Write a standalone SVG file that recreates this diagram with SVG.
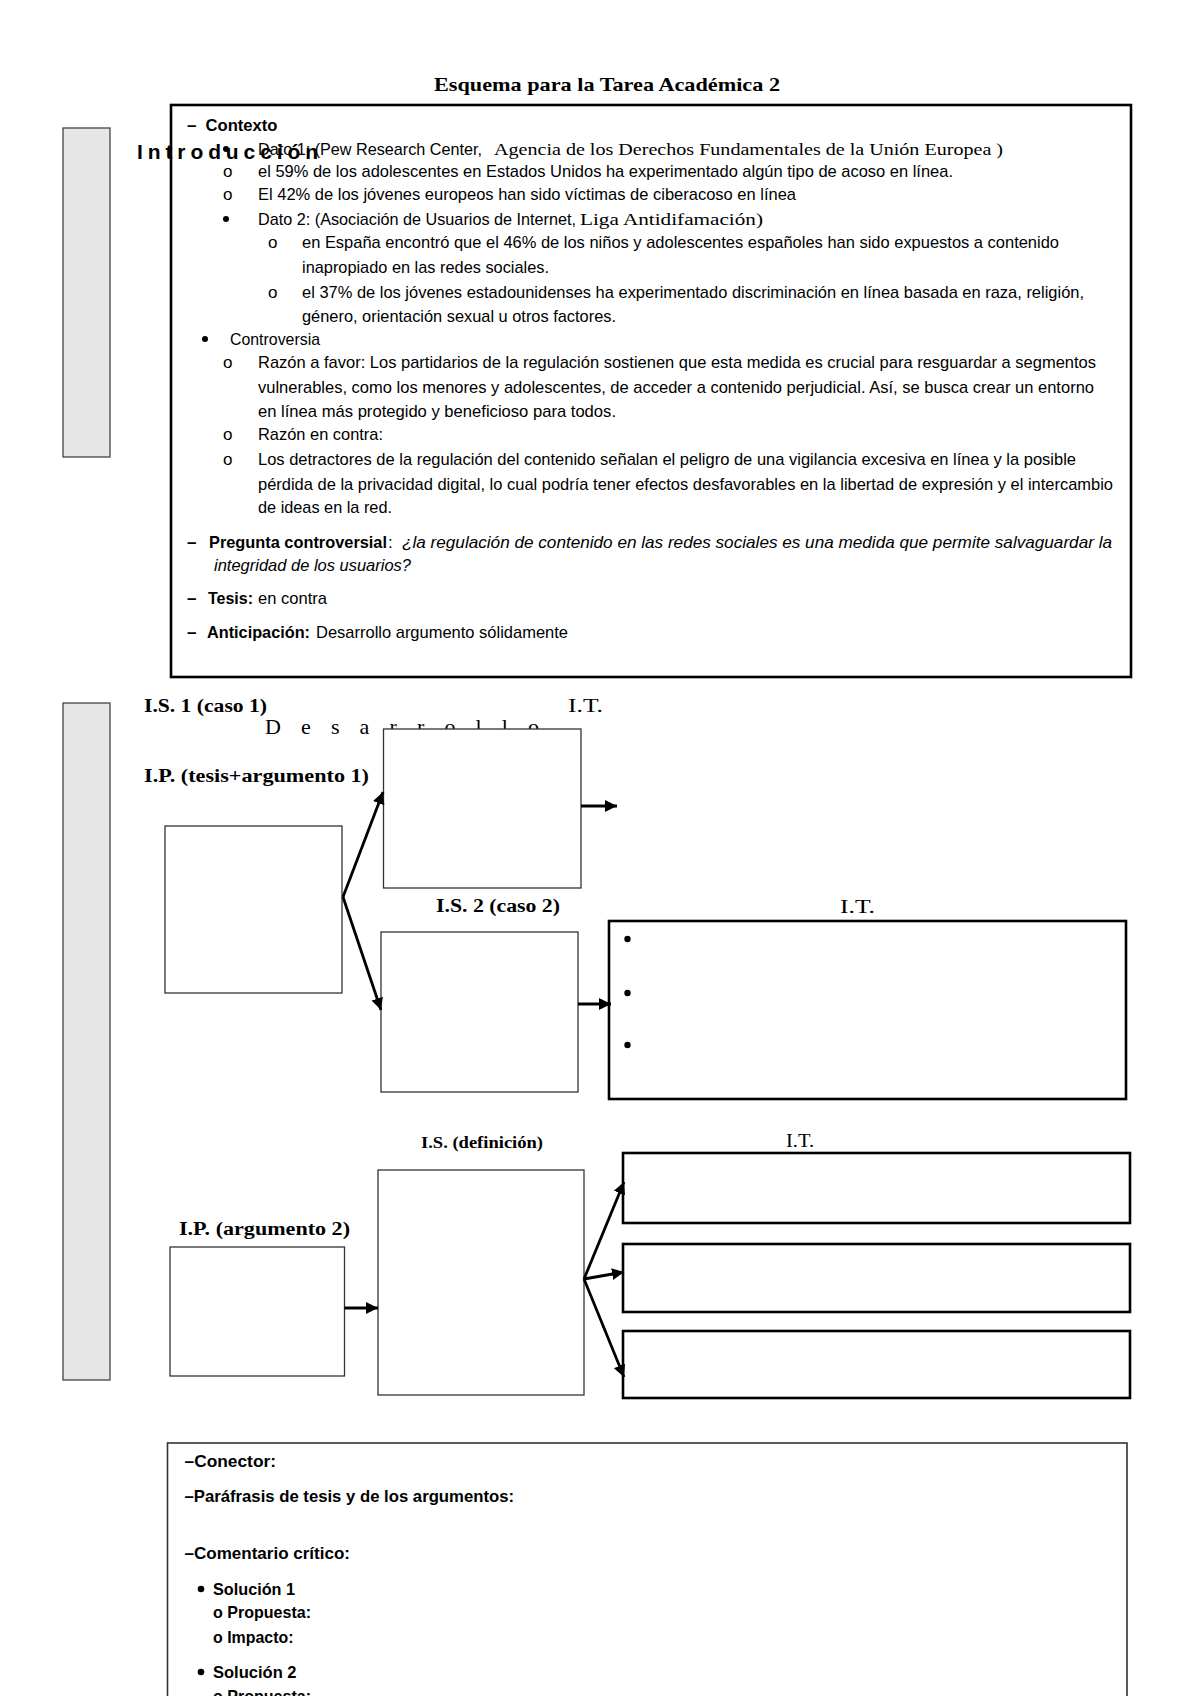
<svg xmlns="http://www.w3.org/2000/svg" width="1200" height="1696" viewBox="0 0 1200 1696">
<style>
.s{font-family:"Liberation Sans",Arial,sans-serif;font-size:17px;fill:#000}
.b{font-weight:bold}
.i{font-style:italic}
.r{font-family:"Liberation Serif","Times New Roman",serif;font-size:17px;fill:#000}
.lab{font-family:"Liberation Serif","Times New Roman",serif;font-size:18px;fill:#000;font-weight:bold}
.labn{font-family:"Liberation Serif","Times New Roman",serif;font-size:18px;fill:#000}
.bar{fill:#e6e6e6;stroke:#444;stroke-width:1.3}
.thin{fill:#fff;stroke:#333;stroke-width:1.3}
.thick{fill:#fff;stroke:#000;stroke-width:2.6}
.conn{stroke:#000;stroke-width:2.8;fill:none;marker-end:url(#ah)}
</style>
<defs>
<marker id="ah" markerUnits="userSpaceOnUse" markerWidth="14" markerHeight="14" refX="12" refY="7" orient="auto">
<path d="M0,1 L12,7 L0,13 z" fill="#000"/>
</marker>
</defs>
<rect width="1200" height="1696" fill="#fff"/>

<text id="title" class="r b" x="434" y="91" style="font-size:19px" textLength="346" lengthAdjust="spacingAndGlyphs">Esquema para la Tarea Académica 2</text>

<g id="bar-intro"><rect class="bar" x="63" y="128" width="47" height="329"/></g>

<g id="intro-box">
<rect x="171" y="105" width="960" height="572" fill="none" stroke="#000" stroke-width="2.6"/>
<text class="s b" x="187" y="131">–</text>
<text class="s b" x="205.5" y="131" textLength="72" lengthAdjust="spacingAndGlyphs">Contexto</text>
<circle cx="226" cy="149" r="3" fill="#000"/>
<text class="s" x="258" y="155" textLength="224" lengthAdjust="spacingAndGlyphs">Dato 1: (Pew Research Center,</text>
<text class="r" x="494" y="155" textLength="509" lengthAdjust="spacingAndGlyphs">Agencia de los Derechos Fundamentales de la Unión Europea )</text>
<text class="s" x="223" y="177">o</text>
<text class="s" x="258" y="177" textLength="695" lengthAdjust="spacingAndGlyphs">el 59% de los adolescentes en Estados Unidos ha experimentado algún tipo de acoso en línea.</text>
<text class="s" x="223" y="200">o</text>
<text class="s" x="258" y="200" textLength="538" lengthAdjust="spacingAndGlyphs">El 42% de los jóvenes europeos han sido víctimas de ciberacoso en línea</text>
<circle cx="226" cy="219" r="3" fill="#000"/>
<text class="s" x="258" y="225" textLength="318" lengthAdjust="spacingAndGlyphs">Dato 2: (Asociación de Usuarios de Internet,</text>
<text class="r" x="580" y="225" textLength="183" lengthAdjust="spacingAndGlyphs">Liga Antidifamación)</text>
<text class="s" x="268" y="248">o</text>
<text class="s" x="302" y="248" textLength="757" lengthAdjust="spacingAndGlyphs">en España encontró que el 46% de los niños y adolescentes españoles han sido expuestos a contenido</text>
<text class="s" x="302" y="273" textLength="247" lengthAdjust="spacingAndGlyphs">inapropiado en las redes sociales.</text>
<text class="s" x="268" y="298">o</text>
<text class="s" x="302" y="298" textLength="782" lengthAdjust="spacingAndGlyphs">el 37% de los jóvenes estadounidenses ha experimentado discriminación en línea basada en raza, religión,</text>
<text class="s" x="302" y="322" textLength="314" lengthAdjust="spacingAndGlyphs">género, orientación sexual u otros factores.</text>
<circle cx="205" cy="339" r="3" fill="#000"/>
<text class="s" x="230" y="345" textLength="90" lengthAdjust="spacingAndGlyphs">Controversia</text>
<text class="s" x="223" y="368">o</text>
<text class="s" x="258" y="368" textLength="838" lengthAdjust="spacingAndGlyphs">Razón a favor: Los partidarios de la regulación sostienen que esta medida es crucial para resguardar a segmentos</text>
<text class="s" x="258" y="393" textLength="836" lengthAdjust="spacingAndGlyphs">vulnerables, como los menores y adolescentes, de acceder a contenido perjudicial. Así, se busca crear un entorno</text>
<text class="s" x="258" y="417" textLength="358" lengthAdjust="spacingAndGlyphs">en línea más protegido y beneficioso para todos.</text>
<text class="s" x="223" y="440">o</text>
<text class="s" x="258" y="440" textLength="125" lengthAdjust="spacingAndGlyphs">Razón en contra:</text>
<text class="s" x="223" y="465">o</text>
<text class="s" x="258" y="465" textLength="818" lengthAdjust="spacingAndGlyphs">Los detractores de la regulación del contenido señalan el peligro de una vigilancia excesiva en línea y la posible</text>
<text class="s" x="258" y="490" textLength="855" lengthAdjust="spacingAndGlyphs">pérdida de la privacidad digital, lo cual podría tener efectos desfavorables en la libertad de expresión y el intercambio</text>
<text class="s" x="258" y="513" textLength="134" lengthAdjust="spacingAndGlyphs">de ideas en la red.</text>
<text class="s b" x="187" y="548">–</text>
<text class="s b" x="209" y="548" textLength="178" lengthAdjust="spacingAndGlyphs">Pregunta controversial</text>
<text class="s" x="388" y="548">:</text>
<text class="s i" x="402" y="548" textLength="710" lengthAdjust="spacingAndGlyphs">¿la regulación de contenido en las redes sociales es una medida que permite salvaguardar la</text>
<text class="s i" x="214" y="571" textLength="197" lengthAdjust="spacingAndGlyphs">integridad de los usuarios?</text>
<text class="s b" x="187" y="604">–</text>
<text class="s b" x="208" y="604" textLength="45" lengthAdjust="spacingAndGlyphs">Tesis:</text>
<text class="s" x="258" y="604" textLength="69" lengthAdjust="spacingAndGlyphs">en contra</text>
<text class="s b" x="187" y="638">–</text>
<text class="s b" x="207" y="638" textLength="103" lengthAdjust="spacingAndGlyphs">Anticipación:</text>
<text class="s" x="316" y="638" textLength="252" lengthAdjust="spacingAndGlyphs">Desarrollo argumento sólidamente</text>
</g>

<text id="lbl-intro" class="s b" x="137" y="159" style="font-size:21px" textLength="181" lengthAdjust="spacing">I n t r o d u c c i ó n</text>

<g id="bar-desarrollo"><rect class="bar" x="63" y="703" width="47" height="677"/></g>

<text class="lab" x="144" y="712" textLength="123" lengthAdjust="spacingAndGlyphs">I.S. 1 (caso 1)</text>
<text class="labn" x="568" y="712" textLength="35" lengthAdjust="spacingAndGlyphs">I.T.</text>
<text id="lbl-desarrollo" class="r" x="265" y="734" style="font-size:22px" textLength="274" lengthAdjust="spacing">D e s a r r o l l o</text>
<text class="lab" x="144" y="782" textLength="225" lengthAdjust="spacingAndGlyphs">I.P. (tesis+argumento 1)</text>

<g id="is1"><rect class="thin" x="383.5" y="729" width="197.5" height="159"/></g>
<g id="ip1"><rect class="thin" x="165" y="826" width="177" height="167"/></g>

<text class="lab" x="436" y="912" textLength="124" lengthAdjust="spacingAndGlyphs">I.S. 2 (caso 2)</text>
<g id="is2"><rect class="thin" x="381" y="932" width="197" height="160"/></g>

<text class="labn" x="840" y="913" textLength="35" lengthAdjust="spacingAndGlyphs">I.T.</text>
<g id="it2">
<rect class="thick" x="609" y="921" width="517" height="178"/>
<circle cx="627.5" cy="939" r="3.2" fill="#000"/>
<circle cx="627.5" cy="993" r="3.2" fill="#000"/>
<circle cx="627.5" cy="1045" r="3.2" fill="#000"/>
</g>

<text class="lab" x="421" y="1148" style="font-size:16px" textLength="122" lengthAdjust="spacingAndGlyphs">I.S. (definición)</text>
<text class="labn" x="786" y="1147" textLength="28" lengthAdjust="spacingAndGlyphs">I.T.</text>
<text class="lab" x="179" y="1235" textLength="171" lengthAdjust="spacingAndGlyphs">I.P. (argumento 2)</text>

<g id="ip2"><rect class="thin" x="170" y="1247" width="174.5" height="129"/></g>
<g id="isdef"><rect class="thin" x="378" y="1170" width="206" height="225"/></g>
<g id="it-a"><rect class="thick" x="623" y="1153" width="507" height="70"/></g>
<g id="it-b"><rect class="thick" x="623" y="1244" width="507" height="68"/></g>
<g id="it-c"><rect class="thick" x="623" y="1331" width="507" height="67"/></g>

<g id="connectors">
<line class="conn" x1="343" y1="897" x2="383" y2="792"/>
<line class="conn" x1="343" y1="897" x2="381" y2="1010"/>
<line class="conn" x1="581" y1="806" x2="617" y2="806"/>
<line class="conn" x1="578" y1="1004" x2="611" y2="1004"/>
<line class="conn" x1="344.5" y1="1308" x2="378" y2="1308"/>
<line class="conn" x1="584" y1="1279" x2="624" y2="1182"/>
<line class="conn" x1="584" y1="1279" x2="624" y2="1272"/>
<line class="conn" x1="584" y1="1279" x2="624" y2="1377"/>
</g>

<g id="conclusion">
<rect x="167.5" y="1443" width="959.5" height="300" fill="none" stroke="#333" stroke-width="1.6"/>
<text class="s b" x="184.5" y="1467" textLength="91.5" lengthAdjust="spacingAndGlyphs">–Conector:</text>
<text class="s b" x="184.5" y="1502" textLength="329.5" lengthAdjust="spacingAndGlyphs">–Paráfrasis de tesis y de los argumentos:</text>
<text class="s b" x="184.5" y="1559" textLength="165.5" lengthAdjust="spacingAndGlyphs">–Comentario crítico:</text>
<circle cx="201" cy="1589" r="3.3" fill="#000"/>
<text class="s b" x="213" y="1595" textLength="82" lengthAdjust="spacingAndGlyphs">Solución 1</text>
<text class="s b" x="213" y="1618" textLength="98" lengthAdjust="spacingAndGlyphs">o Propuesta:</text>
<text class="s b" x="213" y="1643" textLength="80.5" lengthAdjust="spacingAndGlyphs">o Impacto:</text>
<circle cx="201" cy="1672" r="3.3" fill="#000"/>
<text class="s b" x="213" y="1678" textLength="83.5" lengthAdjust="spacingAndGlyphs">Solución 2</text>
<text class="s b" x="213" y="1702" textLength="98" lengthAdjust="spacingAndGlyphs">o Propuesta:</text>
</g>
</svg>
